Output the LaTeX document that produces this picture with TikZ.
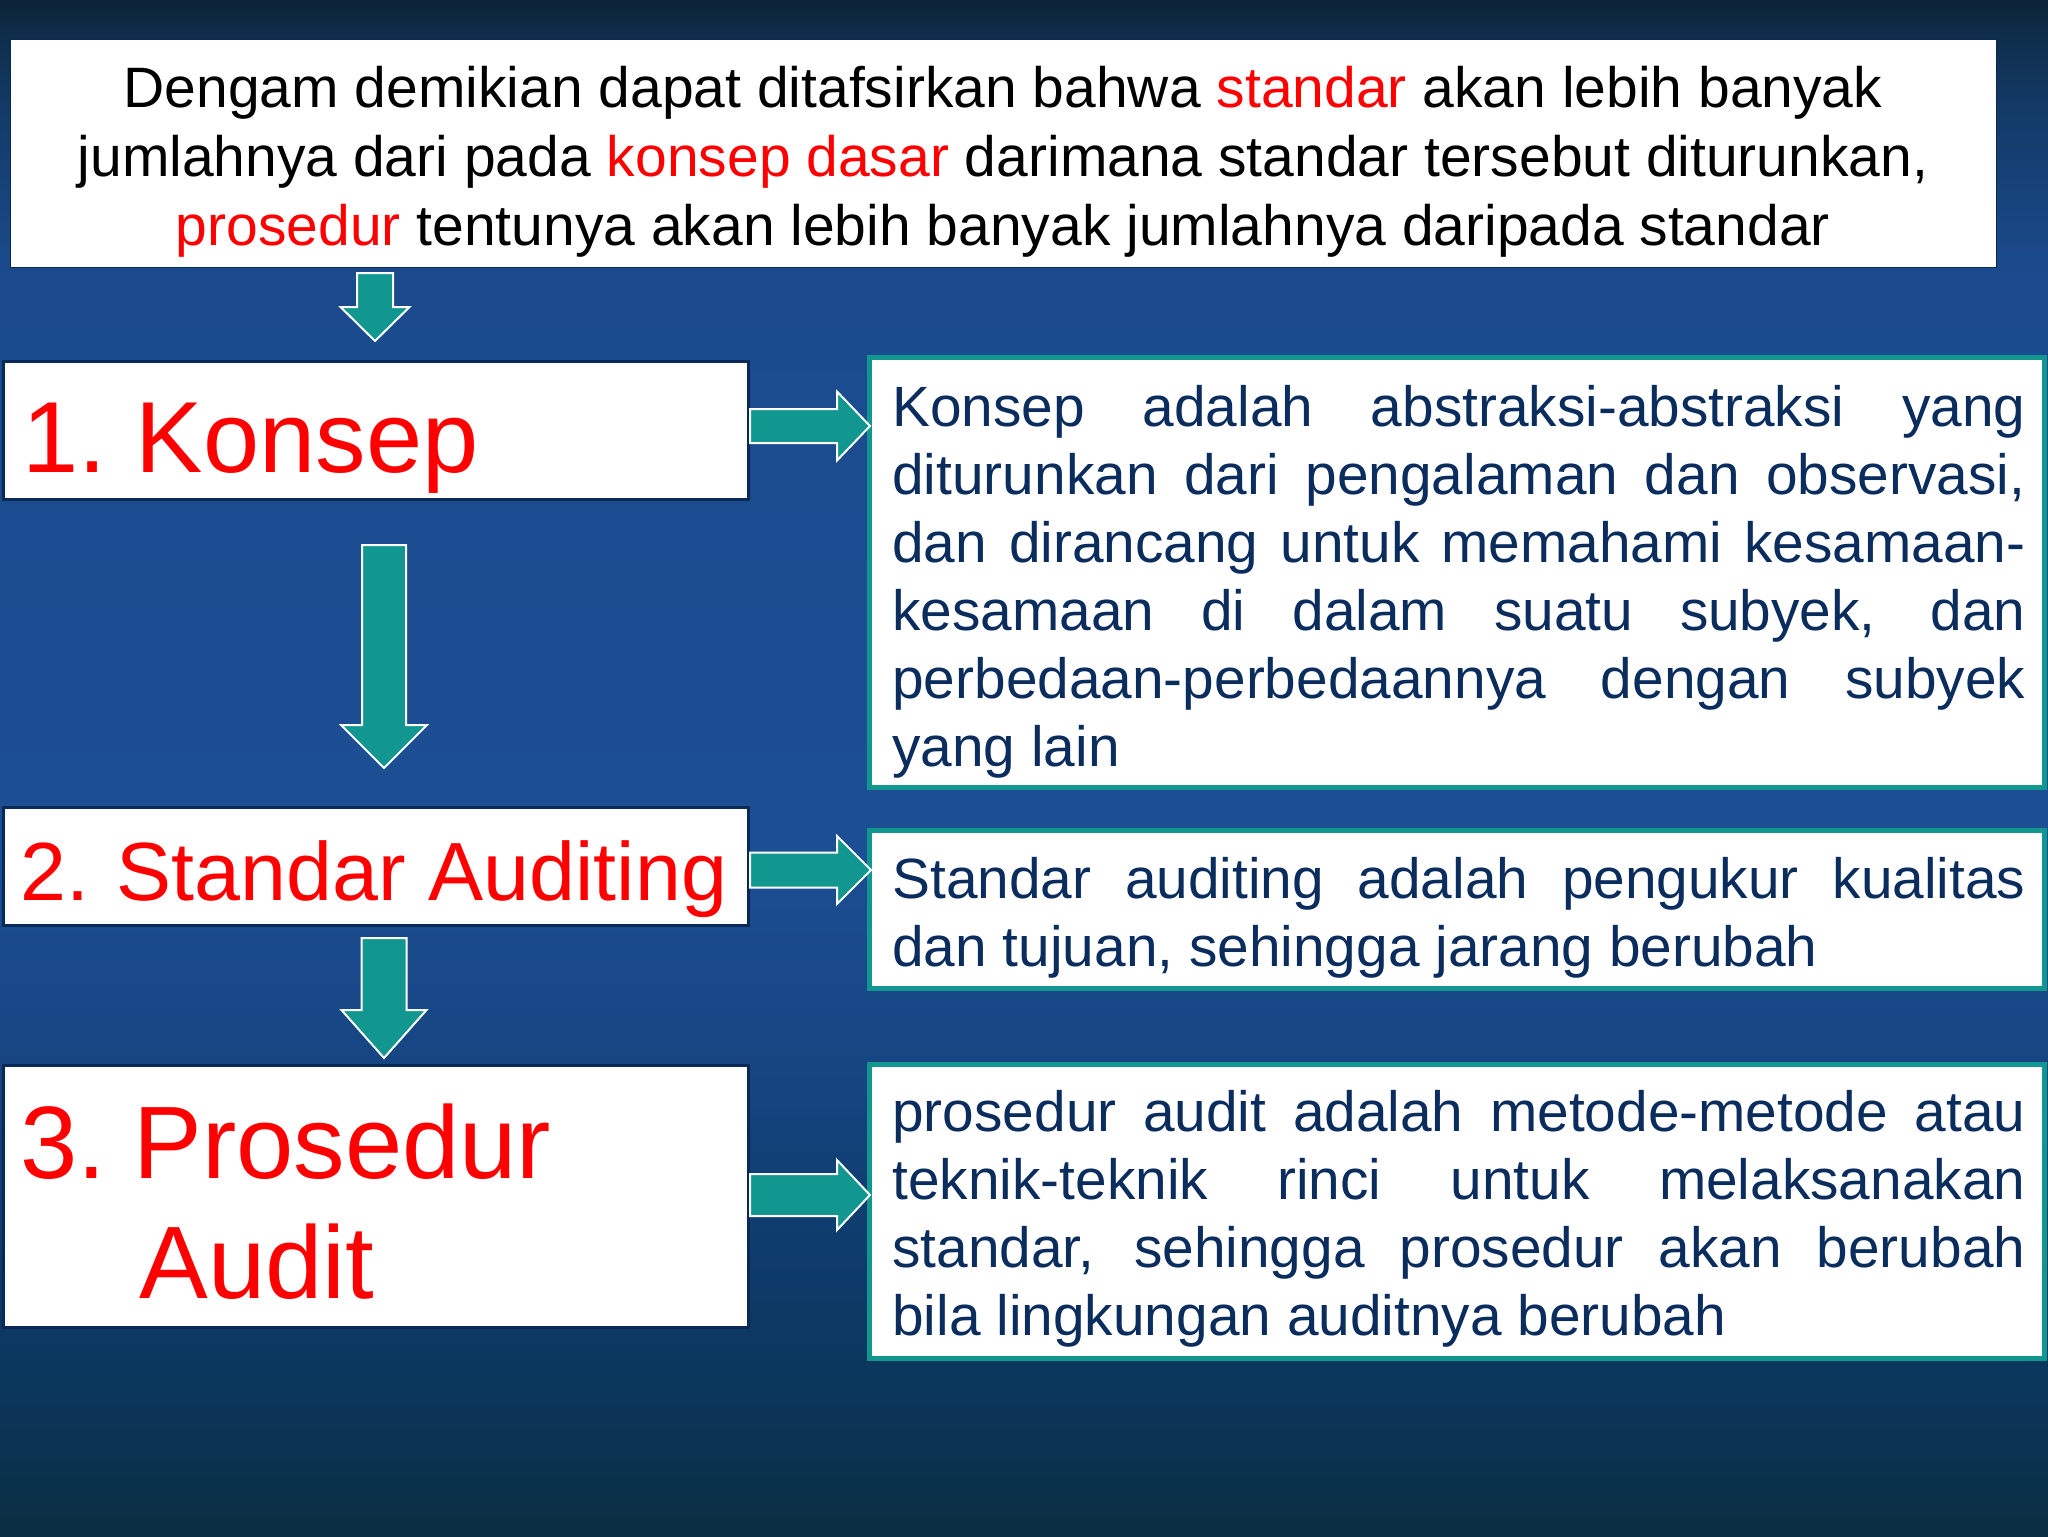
\documentclass[tikz,border=0pt]{standalone}
\usepackage{fontspec}
\setmainfont{Liberation Sans}
\usetikzlibrary{calc}
\definecolor{bgA}{HTML}{0A2E42}
\definecolor{bgB}{HTML}{0B365C}
\definecolor{bgC}{HTML}{0F3E72}
\definecolor{bgD}{HTML}{174684}
\definecolor{bgE}{HTML}{1C4E94}
\definecolor{bgF}{HTML}{1B4B8E}
\definecolor{bgG}{HTML}{133A66}
\definecolor{bgH}{HTML}{0E2C48}
\definecolor{bgI}{HTML}{0B2236}
\definecolor{tealc}{HTML}{11978F}
\definecolor{descblue}{HTML}{0B2D5E}
\definecolor{boxnavy}{HTML}{0A2A55}
\definecolor{redc}{HTML}{FF0000}
% TikZ maps the path to the 25bp..75bp band of the shading
\pgfdeclareverticalshading{bgsh}{100bp}{color(0bp)=(bgA); color(25bp)=(bgA); color(30bp)=(bgB); color(36bp)=(bgC); color(41bp)=(bgD); color(47.5bp)=(bgE); color(66bp)=(bgF); color(71.5bp)=(bgG); color(74bp)=(bgH); color(75bp)=(bgI); color(100bp)=(bgI)}
\tikzset{
  leftbox/.style={draw=boxnavy, line width=1.5pt, fill=white, anchor=north west, outer sep=0pt, inner sep=0pt, minimum width=372.5pt},
  descbox/.style={draw=tealc, line width=2.5pt, fill=white, anchor=north west, outer sep=0pt, inner sep=0pt, minimum width=587.5pt},
  blockarrow/.style={fill=tealc, draw=white, line width=1pt, line join=miter},
  topline/.style={font=\fontsize{28.5}{34}\selectfont, text=black, anchor=base, inner sep=0pt},
  descline/.style={font=\fontsize{28.4}{34}\selectfont, text=descblue, anchor=base west, inner sep=0pt},
  biglabel/.style={text=redc, anchor=base west, inner sep=0pt},
}
\newcommand\downblk[5]{%
  \draw[blockarrow] ($(#1)+(-#3,0)$) -- ($(#2)+(-#3,-#5)$) -- ($(#2)+(-#4,-#5)$) -- (#2)
    -- ($(#2)+(#4,-#5)$) -- ($(#2)+(#3,-#5)$) -- ($(#1)+(#3,0)$) -- cycle;}
\newcommand\rightblk[5]{%
  \draw[blockarrow] ($(#1)+(0,-#3)$) -- ($(#2)+(-#5,-#3)$) -- ($(#2)+(-#5,-#4)$) -- (#2)
    -- ($(#2)+(-#5,#4)$) -- ($(#2)+(-#5,#3)$) -- ($(#1)+(0,#3)$) -- cycle;}
\newcommand\jl[1]{\makebox[566.5pt][s]{#1}}
\begin{document}
\begin{tikzpicture}[x=0.5pt,y=-0.5pt]
\useasboundingbox (0,0) rectangle (2048,1536);
\shade[shading=bgsh] (0,0) rectangle (2048,1536);

% boxes
\node[draw=boxnavy, line width=0.5pt, fill=white, anchor=north west, outer sep=0pt, inner sep=0pt,
      minimum width=993pt, minimum height=113.5pt] (top) at (10,40) {};
\node[leftbox, minimum height=69pt] (konsep) at (3,361) {};
\node[leftbox, minimum height=59pt] (standar) at (3,807) {};
\node[leftbox, minimum height=131pt] (prosedur) at (3,1065) {};
\node[descbox, minimum height=215pt] (d1) at (869.5,357.5) {};
\node[descbox, minimum height=79pt] (d2) at (869.5,830.5) {};
\node[descbox, minimum height=147pt] (d3) at (869.5,1064.5) {};

% arrow end points
\coordinate (a1s) at (375,273);  \coordinate (a1e) at (375,341);
\coordinate (a2s) at (384,545);  \coordinate (a2e) at (384,768);
\coordinate (a3s) at (384,938);  \coordinate (a3e) at (384,1058);
\coordinate (b1s) at (750,426);  \coordinate (b1e) at (870,426);
\coordinate (b2s) at (750,870);  \coordinate (b2e) at (871,870);
\coordinate (b3s) at (750,1195); \coordinate (b3e) at (870,1195);

\downblk{a1s}{a1e}{18}{34.5}{34}
\downblk{a2s}{a2e}{22}{43}{43}
\downblk{a3s}{a3e}{22.5}{42.5}{48}
\rightblk{b1s}{b1e}{17}{34.5}{33}
\rightblk{b2s}{b2e}{17.5}{34}{34}
\rightblk{b3s}{b3e}{21}{35}{33}

% top text
\node[topline] (t1) at (1003,108) {Dengam demikian dapat ditafsirkan bahwa \textcolor{redc}{standar} akan lebih banyak};
\node[topline] (t2) at (1003,176) {jumlahnya dari pada \textcolor{redc}{konsep dasar} darimana standar tersebut diturunkan,};
\node[topline] (t3) at (1003,245) {\textcolor{redc}{prosedur} tentunya akan lebih banyak jumlahnya daripada standar};

% left labels
\node[biglabel, font=\fontsize{50.5}{60}\selectfont] (lk) at (22,472) {\makebox[56.8pt][l]{1.}Konsep};
\node[biglabel, font=\fontsize{41.3}{50}\selectfont] (ls) at (20,900) {\makebox[48pt][l]{2.}Standar Auditing};
\node[biglabel, font=\fontsize{51.5}{60}\selectfont] (lp1) at (20,1178) {\makebox[56.5pt][l]{3.}Prosedur};
\node[biglabel, font=\fontsize{51.5}{60}\selectfont] (lp2) at (139,1298) {Audit};

% description 1
\node[descline] (d1a) at (892,426) {\jl{Konsep adalah abstraksi-abstraksi yang}};
\node[descline] (d1b) at (892,494) {\jl{diturunkan dari pengalaman dan observasi,}};
\node[descline] (d1c) at (892,562) {\jl{dan dirancang untuk memahami kesamaan-}};
\node[descline] (d1d) at (892,630) {\jl{kesamaan di dalam suatu subyek, dan}};
\node[descline] (d1e) at (892,698) {\jl{perbedaan-perbedaannya dengan subyek}};
\node[descline] (d1f) at (892,766) {yang lain};

% description 2
\node[descline] (d2a) at (892,898) {\jl{Standar auditing adalah pengukur kualitas}};
\node[descline] (d2b) at (892,966) {dan tujuan, sehingga jarang berubah};

% description 3
\node[descline] (d3a) at (892,1131) {\jl{prosedur audit adalah metode-metode atau}};
\node[descline] (d3b) at (892,1199) {\jl{teknik-teknik rinci untuk melaksanakan}};
\node[descline] (d3c) at (892,1267) {\jl{standar, sehingga prosedur akan berubah}};
\node[descline] (d3d) at (892,1335) {bila lingkungan auditnya berubah};
\end{tikzpicture}
\end{document}
